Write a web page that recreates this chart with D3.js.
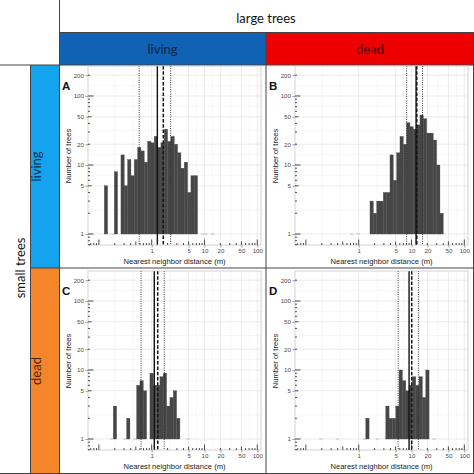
<!DOCTYPE html>
<html><head><meta charset="utf-8">
<script src="https://cdn.jsdelivr.net/npm/d3@7"></script>
<style>
body{margin:0;background:#fff}
svg{display:block}
</style></head><body>
<svg id="fig" width="474" height="474"></svg>
<script>
// counts per log bin; each panel starts at its own edge (m), bins grow by binRatio
var binRatio = 1.1564;
var startA = 0.1265, startB = 0.684, startC = 0.162, startD = 0.178;
var countsA = [5,0,1,8,0,14,5,12,7,12,18,16,11,22,21,26,18,21,33,22,26,20,15,9,11,4,7,7,0,1,1,0,1];
var countsB = [1,0,1,0,0,0,3,2,3,3,4,4,14,6,15,26,20,41,36,33,38,53,47,29,29,23,10,2];
var countsC = [1,3,0,0,1,2,0,1,6,7,5,0,9,6,6,8,9,3,4,5,2,0,0,1];
var countsD = [1,0,0,0,0,1,0,0,0,0,0,0,0,1,2,0,0,1,0,0,3,2,2,3,10,7,5,6,8,6,8,4,10,0,1];

// reference lines (m) for A, B, C, D
var solidLine  = [1.28, 12.2, 1.12, 9.0];
var dashedLine = [1.66, 12.6, 1.30, 10.1];
var dotLow     = [0.58, 8.1, 0.63, 5.6];
var dotHigh    = [2.29, 16.2, 1.73, 13.5];

var xTicks = [1,5,10,20,50,100];
var yTicks = [1,5,10,20,50,100,200];
var xMinor = [0.2,0.447,2.24,7.07,14.1,31.6,70.7];
var yMinor = [2.24,7.07,14.1,31.6,70.7,141];
var panelNames = ["A","B","C","D"];
var colLabels = ["living","dead"];
var rowLabels = ["living","dead"];

var svg = d3.select("#fig");

// ---- table frame ----
var colColors = ["#0f62b4","#ee0000"];
var colText = ["#0c2340","#4a0505"];
var rowColors = ["#14a4ef","#f5852b"];
var rowText = ["#0e2d4a","#4a2004"];
var colX = [59,266,474];
var rowY = [65,268,474];

colLabels.forEach(function(t,i){
    svg.append("rect").attr("x",colX[i]).attr("y",32).attr("width",colX[i+1]-colX[i]).attr("height",33)
        .attr("fill",colColors[i]);
    svg.append("text").attr("x",(colX[i]+colX[i+1])/2).attr("y",54)
        .attr("text-anchor","middle").attr("font-family","Lato").attr("font-size",13)
        .attr("fill",colText[i]).text(t);
});
rowLabels.forEach(function(t,i){
    svg.append("rect").attr("x",30).attr("y",rowY[i]).attr("width",29).attr("height",rowY[i+1]-rowY[i])
        .attr("fill",rowColors[i]);
    svg.append("text").attr("transform","translate(41,"+((rowY[i]+rowY[i+1])/2)+") rotate(-90)")
        .attr("text-anchor","middle").attr("font-family","Lato").attr("font-size",13)
        .attr("fill",rowText[i]).text(t);
});
svg.append("text").attr("x",266).attr("y",23).attr("text-anchor","middle")
    .attr("font-family","Lato").attr("font-size",13).attr("fill","#111").text("large trees");
svg.append("text").attr("transform","translate(25,268) rotate(-90)").attr("text-anchor","middle")
    .attr("font-family","Lato").attr("font-size",13).attr("fill","#111").text("small trees");

var frame = [
    [59.5,0,59.5,474],[0,65,474,65],[59,32.5,474,32.5],[266,32,266,474],
    [30,268,474,268],[30.5,65,30.5,474],[0,473.5,474,473.5],[473.5,32,473.5,474]
];
frame.forEach(function(l){
    svg.append("line").attr("x1",l[0]).attr("y1",l[1]).attr("x2",l[2]).attr("y2",l[3])
        .attr("stroke","#444").attr("stroke-width",1);
});

// ---- panels ----
var allCounts = [countsA,countsB,countsC,countsD];
var allStarts = [startA,startB,startC,startD];
var panelX = [59,266,59,266];
var panelY = [65,65,270,270];

function drawPanel(i){
    var ox = panelX[i], oy = panelY[i];
    var g = svg.append("g");
    var left = ox+29, right = ox+202, top = oy+1, bottom = oy+180;

    var x = d3.scaleLog().domain([0.0622,117.5]).range([left,right]);
    var y = d3.scaleLog().domain([0.693,272]).range([bottom,top]);

    g.append("rect").attr("x",left).attr("y",top).attr("width",right-left).attr("height",bottom-top)
        .attr("fill","#fff");

    // grid
    g.selectAll(".gxm").data(xMinor).enter().append("line")
        .attr("x1",function(d){return x(d);}).attr("x2",function(d){return x(d);})
        .attr("y1",top).attr("y2",bottom).attr("stroke","#efefef").attr("stroke-width",0.5);
    g.selectAll(".gym").data(yMinor).enter().append("line")
        .attr("y1",function(d){return y(d);}).attr("y2",function(d){return y(d);})
        .attr("x1",left).attr("x2",right).attr("stroke","#efefef").attr("stroke-width",0.5);
    g.selectAll(".gx").data(xTicks).enter().append("line")
        .attr("x1",function(d){return x(d);}).attr("x2",function(d){return x(d);})
        .attr("y1",top).attr("y2",bottom).attr("stroke","#e2e2e2").attr("stroke-width",0.7);
    g.selectAll(".gy").data(yTicks).enter().append("line")
        .attr("y1",function(d){return y(d);}).attr("y2",function(d){return y(d);})
        .attr("x1",left).attr("x2",right).attr("stroke","#e2e2e2").attr("stroke-width",0.7);

    // histogram bars
    var bins = allCounts[i].map(function(c,k){
        var lo = allStarts[i]*Math.pow(binRatio,k);
        return {lo:lo, hi:lo*binRatio, n:c};
    });
    g.selectAll(".bar").data(bins.filter(function(b){return b.n>1;})).enter().append("rect")
        .attr("x",function(b){return x(b.lo);})
        .attr("width",function(b){return x(b.hi)-x(b.lo);})
        .attr("y",function(b){return y(b.n);})
        .attr("height",function(b){return y(1)-y(b.n);})
        .attr("fill","#464646").attr("stroke","#464646").attr("stroke-width",0.3);
    g.selectAll(".one").data(bins.filter(function(b){return b.n===1;})).enter().append("line")
        .attr("x1",function(b){return x(b.lo);}).attr("x2",function(b){return x(b.hi);})
        .attr("y1",y(1)).attr("y2",y(1)).attr("stroke","#b5b5b5").attr("stroke-width",0.8);

    // reference lines
    function vline(v,w,dash,col){
        g.append("line").attr("x1",x(v)).attr("x2",x(v)).attr("y1",top).attr("y2",bottom)
            .attr("stroke",col).attr("stroke-width",w).attr("stroke-dasharray",dash);
    }
    vline(dotLow[i],0.9,"1,1.3","#222");
    vline(dotHigh[i],0.9,"1,1.3","#222");
    vline(solidLine[i],1.4,null,"#111");
    vline(dashedLine[i],1.5,"3.5,1.8","#111");

    g.append("rect").attr("x",left).attr("y",top).attr("width",right-left).attr("height",bottom-top)
        .attr("fill","none").attr("stroke","#bdbdbd").attr("stroke-width",0.7);

    // log ticks inside the panel
    var decades = [0.01,0.1,1,10,100];
    var logv = [];
    decades.forEach(function(d){ for(var m=1;m<=9;m++) logv.push({v:d*m,m:m}); });
    function tlen(m){ return m===1 ? 5.5 : (m===5 ? 3.5 : 2); }
    g.selectAll(".ltx").data(logv.filter(function(t){return t.v>=0.0622 && t.v<=117.5;})).enter().append("line")
        .attr("x1",function(t){return x(t.v);}).attr("x2",function(t){return x(t.v);})
        .attr("y1",bottom).attr("y2",function(t){return bottom-tlen(t.m);})
        .attr("stroke","#222").attr("stroke-width",0.8);
    g.selectAll(".lty").data(logv.filter(function(t){return t.v>=0.693 && t.v<=272;})).enter().append("line")
        .attr("y1",function(t){return y(t.v);}).attr("y2",function(t){return y(t.v);})
        .attr("x1",left).attr("x2",function(t){return left+tlen(t.m);})
        .attr("stroke","#222").attr("stroke-width",0.8);

    // axes
    var xAxis = d3.axisBottom(x).tickValues(xTicks).tickFormat(d3.format("d")).tickSize(2.5).tickPadding(1.5);
    var yAxis = d3.axisLeft(y).tickValues(yTicks).tickFormat(d3.format("d")).tickSize(2.5).tickPadding(1.5);
    var ax = g.append("g").attr("transform","translate(0,"+bottom+")").call(xAxis);
    var ay = g.append("g").attr("transform","translate("+left+",0)").call(yAxis);
    [ax,ay].forEach(function(a){
        a.select(".domain").remove();
        a.selectAll("line").attr("stroke","#777").attr("stroke-width",0.7);
        a.selectAll("text").attr("font-family","Liberation Sans").attr("font-size",6.2).attr("fill","#4d4d4d");
    });

    g.append("text").attr("x",(left+right)/2).attr("y",oy+198.5).attr("text-anchor","middle")
        .attr("font-family","Liberation Sans").attr("font-size",7.6).attr("fill","#222")
        .text("Nearest neighbor distance (m)");
    g.append("text").attr("transform","translate("+(ox+12)+","+(oy+91)+") rotate(-90)")
        .attr("text-anchor","middle").attr("font-family","Liberation Sans").attr("font-size",7.6)
        .attr("fill","#222").text("Number of trees");
    g.append("text").attr("x",ox+3).attr("y",oy+25).attr("font-family","Liberation Sans")
        .attr("font-weight","bold").attr("font-size",11.5).attr("fill","#111").text(panelNames[i]);
}

for (var p=0;p<4;p++) drawPanel(p);
</script>
</body></html>
